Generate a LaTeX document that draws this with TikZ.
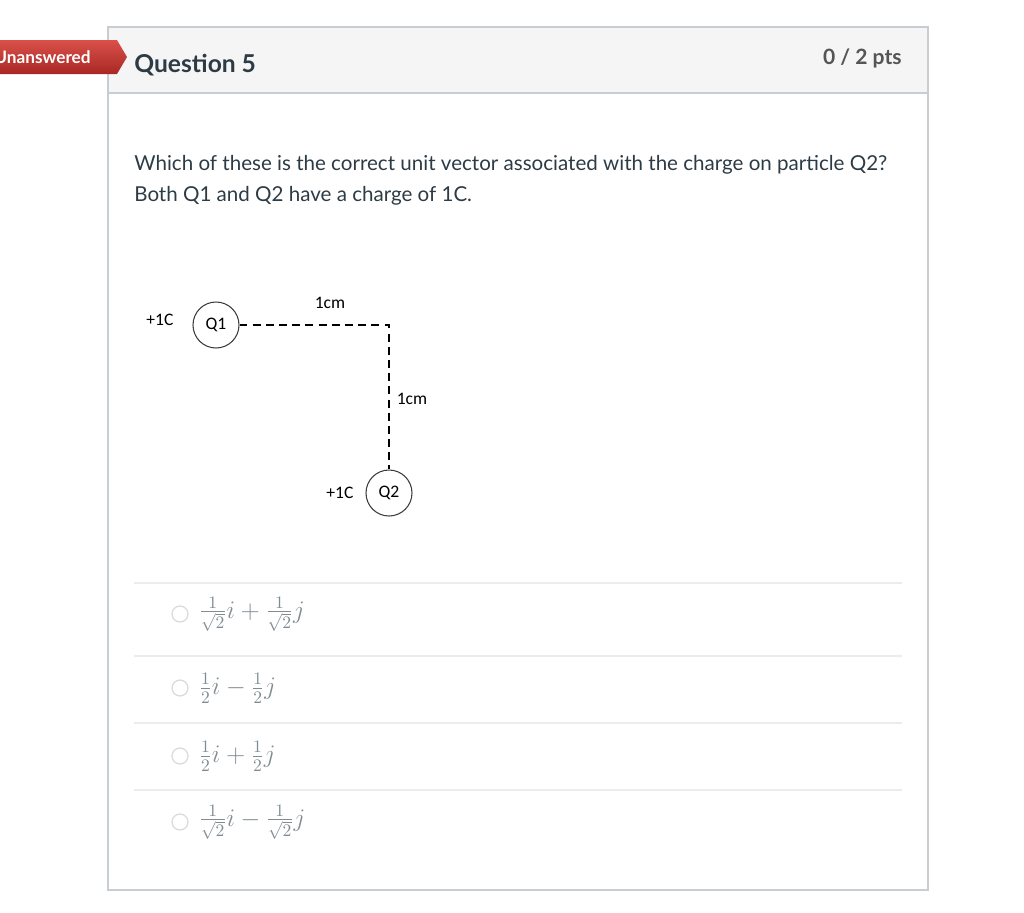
\documentclass[tikz,border=0pt]{standalone}
\usepackage[no-math]{fontspec}
\setmainfont{Lato}
\newfontfamily\diagfont{Carlito}
\usetikzlibrary{positioning}

\definecolor{cardline}{RGB}{199,205,209}
\definecolor{headfill}{RGB}{245,245,245}
\definecolor{inktext}{RGB}{45,59,69}
\definecolor{ptsgray}{RGB}{85,85,85}
\definecolor{rulegray}{RGB}{236,236,236}
\definecolor{mathgray}{RGB}{128,140,146}
\definecolor{radiogray}{RGB}{218,218,218}
\definecolor{bannertop}{RGB}{218,80,74}
\definecolor{bannerbot}{RGB}{168,40,36}
\definecolor{penline}{RGB}{60,60,60}

\tikzset{
  charge/.style={draw=penline, circle, minimum size=0.92cm, inner sep=0pt, line width=0.6pt, font=\diagfont\fontsize{10}{12}\selectfont},
  dimlabel/.style={inner sep=0pt, font=\diagfont\fontsize{10}{12}\selectfont},
  gapline/.style={line width=1.1pt, dash pattern=on 4.5pt off 3pt},
  radio/.style={draw=radiogray, fill=white, circle, minimum size=0.32cm, inner sep=0pt, line width=0.7pt},
  answer/.style={text=mathgray, inner sep=0pt, font=\fontsize{14.5}{17}\selectfont},
  divider/.style={rulegray, line width=1pt},
  bodytext/.style={anchor=base west, inner sep=0pt, text=inktext, font=\fontsize{11.7}{14}\selectfont}
}

\begin{document}
\begin{tikzpicture}
\useasboundingbox (0,0) rectangle (20.48,-18.26);

% card and its grey header
\fill[headfill] (2.16,-0.54) rectangle (18.56,-1.86);
\draw[cardline, line width=0.8pt] (2.16,-1.86) -- (18.56,-1.86);
\draw[cardline, line width=0.8pt] (2.16,-0.54) rectangle (18.56,-17.80);

% red flag on the left
\shade[top color=bannertop, bottom color=bannerbot] (-0.1,-0.80) -- (2.34,-0.80) -- (2.54,-1.14) -- (2.34,-1.48) -- (-0.1,-1.48) -- cycle;
\node[anchor=east, inner sep=0pt, text=white, font=\bfseries\fontsize{9.8}{11}\selectfont] (flag) at (1.82,-1.14) {Unanswered};

\node[anchor=west, inner sep=0pt, text=inktext, font=\bfseries\fontsize{14}{16}\selectfont] (qtitle) at (2.68,-1.30) {Question 5};
\node[anchor=east, inner sep=0pt, text=ptsgray, font=\bfseries\fontsize{12}{14}\selectfont] (pts) at (18.04,-1.16) {0 / 2 pts};

% question text
\node[bodytext] (lineone) at (2.68,-3.40) {Which of these is the correct unit vector associated with the charge on particle Q2?};
\node[bodytext] (linetwo) at (2.68,-4.02) {Both Q1 and Q2 have a charge of 1C.};

% charges
\node[charge] (qone) at (4.32,-6.50) {Q1};
\node[charge] (qtwo) at (7.78,-9.86) {Q2};
\coordinate (corner) at (7.78,-6.50);

\node[dimlabel] (chone) at (3.20,-6.40) {+1C};
\node[dimlabel] (chtwo) at (6.80,-9.86) {+1C};
\node[dimlabel] (dimx) at (6.60,-6.06) {1cm};
\node[dimlabel] (dimy) at (8.24,-7.98) {1cm};

\draw[gapline] (qone.east) -- (corner) -- (qtwo.north);

% answer rows
\draw[divider] (2.68,-11.66) -- (18.04,-11.66);
\draw[divider] (2.68,-13.12) -- (18.04,-13.12);
\draw[divider] (2.68,-14.46) -- (18.04,-14.46);
\draw[divider] (2.68,-15.80) -- (18.04,-15.80);

\node[radio] (opta) at (3.60,-12.28) {};
\node[radio] (optb) at (3.60,-13.76) {};
\node[radio] (optc) at (3.60,-15.12) {};
\node[radio] (optd) at (3.60,-16.44) {};

\node[answer, right=0.2cm of opta] (ansa) {$\frac{1}{\sqrt{2}}i+\frac{1}{\sqrt{2}}j$};
\node[answer, right=0.2cm of optb] (ansb) {$\frac{1}{2}i-\frac{1}{2}j$};
\node[answer, right=0.2cm of optc] (ansc) {$\frac{1}{2}i+\frac{1}{2}j$};
\node[answer, right=0.2cm of optd] (ansd) {$\frac{1}{\sqrt{2}}i-\frac{1}{\sqrt{2}}j$};

\end{tikzpicture}
\end{document}
